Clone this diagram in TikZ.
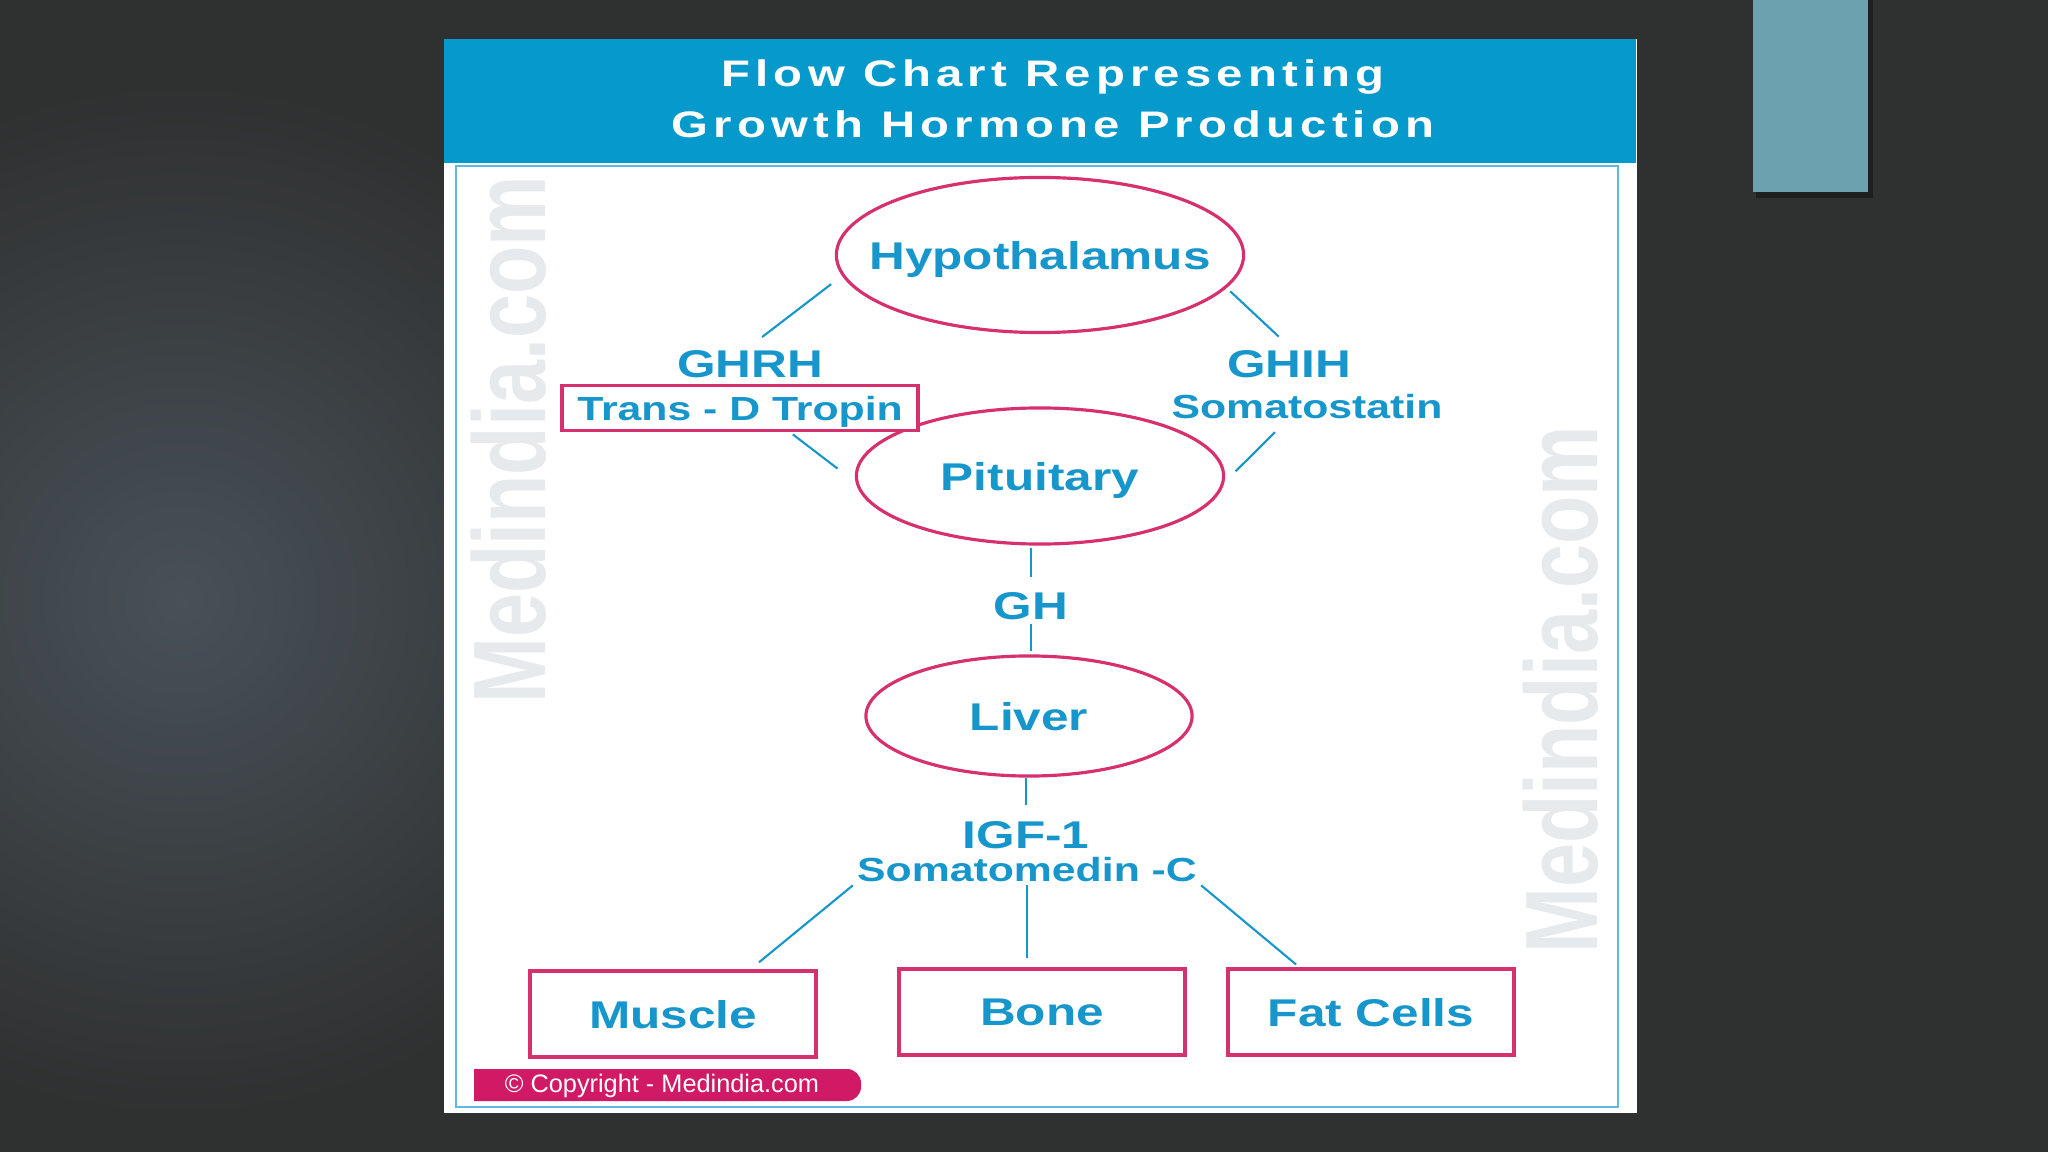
\documentclass[tikz,border=0pt]{standalone}
\usepackage{fontspec}
\setmainfont{Liberation Sans}
\newfontfamily\chartfont[FakeStretch=1.28]{Liberation Sans}
\newfontfamily\titlefont[FakeStretch=1.28,LetterSpace=14]{Liberation Sans}
\usetikzlibrary{shapes.geometric}

\definecolor{slidebg}{HTML}{2F3030}
\definecolor{slideglow}{HTML}{485158}
\definecolor{tabteal}{HTML}{6CA1B0}
\definecolor{headblue}{HTML}{0599CC}
\definecolor{textblue}{HTML}{1796CC}
\definecolor{framepink}{HTML}{D6306E}
\definecolor{barpink}{HTML}{D01A66}
\definecolor{rimblue}{HTML}{5DBBE0}
\definecolor{markgray}{HTML}{E6EAEC}

\begin{document}
\begin{tikzpicture}[
    x=0.01cm, y=-0.01cm,
    every node/.style={font=\chartfont\bfseries\fontsize{11}{13}\selectfont, text=textblue, inner sep=1pt},
    hormone/.style={text depth=0pt},
    subname/.style={hormone, font=\chartfont\bfseries\fontsize{9.5}{11}\selectfont},
    organ/.style={ellipse, draw=framepink, line width=0.9pt, fill=white, text depth=0pt},
    tissue/.style={rectangle, draw=framepink, line width=1pt, fill=white, text depth=0pt, minimum width=2.86cm, minimum height=0.86cm},
    tropinbox/.style={subname, rectangle, draw=framepink, line width=1pt, fill=white, minimum width=3.56cm, minimum height=0.45cm},
    link/.style={draw=textblue, line width=0.6pt},
    watermark/.style={rotate=90, text=markgray, font=\fontsize{22.5}{24}\selectfont\bfseries},
    titletext/.style={text=white, align=center, font=\titlefont\bfseries\fontsize{10.5}{14.5}\selectfont},
    credit/.style={text=white, font=\fontsize{7.2}{8}\selectfont},
]
\useasboundingbox (0,0) rectangle (2048,1152);

% ---- Slide ----
\fill[slidebg] (0,0) rectangle (2048,1152);
\shade[inner color=slideglow, outer color=slidebg] (180,600) circle (520);
\fill[black, opacity=0.35] (1756,0) rectangle (1873,198);
\fill[tabteal] (1753,0) rectangle (1868,192);

% ---- Panel and header ----
\fill[white] (444,39) rectangle (1637,1113);
\fill[headblue] (444,39) rectangle (1636,163);
\draw[rimblue, line width=0.6pt] (456,166) rectangle (1618,1107);
\node[titletext] (title) at (1053,99) {Flow Chart Representing\\Growth Hormone Production};

% ---- Watermarks ----
\node[watermark] (markleft) at (509,440) {\scalebox{1}[1.3]{Medindia.com}};
\node[watermark] (markright) at (1561,690) {\scalebox{1}[1.3]{Medindia.com}};

% ---- Glands ----
\node[organ, inner xsep=-8pt, minimum width=4.07cm, minimum height=1.55cm] (hypo) at (1040,255) {Hypothalamus};
\node[organ, minimum width=3.67cm, minimum height=1.36cm] (pit) at (1040,476) {Pituitary};
\node[organ, minimum width=3.26cm, minimum height=1.20cm] (liver) at (1029,716) {Liver};

% ---- Hormones ----
\node[hormone] (ghrh) at (750,364) {GHRH};
\node[tropinbox] (tropin) at (740,408) {Trans - D Tropin};
\node[hormone] (ghih) at (1289,364) {GHIH};
\node[subname] (somatostatin) at (1307,406) {Somatostatin};
\node[hormone] (gh) at (1031,606) {GH};
\node[hormone] (igf) at (1026,835) {IGF-1};
\node[subname] (somac) at (1027,869) {Somatomedin -C};

% ---- Target tissues ----
\node[tissue] (muscle) at (673,1014) {Muscle};
\node[tissue] (bone) at (1042,1012) {Bone};
\node[tissue] (fat) at (1371,1012) {Fat Cells};

% Hypothalamus to pituitary, both routes
\draw[link, shorten <=3.9pt, shorten >=4.3pt] (hypo.186) -- (ghrh.north);
\draw[link, shorten <=1.4pt, shorten >=4pt] (hypo.350) -- (ghih.north);
\draw[link, shorten <=1pt, shorten >=6.5pt] ([xshift=0.5cm]tropin.south) -- (pit.182);
\draw[link, shorten <=4pt, shorten >=4.5pt] ([xshift=-0.22cm]somatostatin.south) -- (pit.358);

% Down the axis
\draw[link, shorten <=0.6pt, shorten >=3.3pt] (gh.north |- pit.south) -- (gh.north);
\draw[link, shorten >=1pt] (gh.south) -- (gh.south |- liver.north);
\draw[link, shorten >=3.6pt] (igf.north |- liver.south) -- (igf.north);

% IGF-1 to the tissues
\draw[link, shorten >=3.1pt] (somac.south west) -- (muscle.30);
\draw[link, shorten >=2.6pt] (somac.south) -- (somac.south |- bone.north);
\draw[link, shorten >=1.2pt] (somac.south east) -- (fat.148);

% ---- Credit bar ----
\fill[barpink] (474,1101) -- (474,1069) [rounded corners=4pt] -- (861,1069) -- (861,1101) [sharp corners] -- cycle;
\node[credit] (copyright) at (662,1086) {© Copyright - Medindia.com};

\end{tikzpicture}
\end{document}
